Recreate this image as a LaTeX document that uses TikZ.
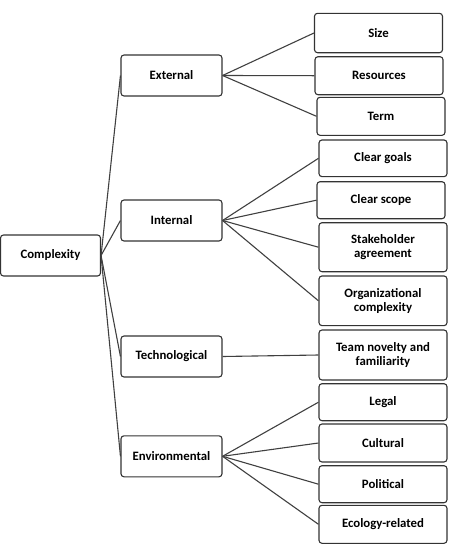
\documentclass[tikz,border=0pt]{standalone}
\usepackage{fontspec}
\setmainfont{Carlito}
\begin{document}
\begin{tikzpicture}[x=1pt,y=-1pt,
  box/.style={draw=black!80,line width=1.1pt,rounded corners=3pt,fill=white,inner sep=0pt,
    font=\fontsize{12.8}{14}\selectfont\bfseries,align=center},
  lbox/.style={box,minimum width=101pt,minimum height=41pt},
  rbox/.style={box,minimum width=128pt},
  conn/.style={draw=black!75,line width=1.1pt}]
\useasboundingbox (0,0) rectangle (474,558);
\node[lbox,minimum width=100pt] (cx) at (50.5,255.5) {Complexity};
\node[lbox] (ext) at (171.5,75.5) {External};
\node[lbox] (int) at (171.5,220.5) {Internal};
\node[lbox] (tec) at (171.5,356.5) {Technological};
\node[lbox] (env) at (171.5,456.3) {Environmental};
\node[rbox,minimum height=39.4pt] (size) at (378.5,33) {Size};
\node[rbox,minimum height=38pt] (res) at (379,75.7) {Resources};
\node[rbox,minimum height=38pt] (term) at (381,116.3) {Term};
\node[rbox,minimum height=36.7pt] (goal) at (383,158.3) {Clear goals};
\node[rbox,minimum height=37pt] (scope) at (381,200.2) {Clear scope};
\node[rbox,minimum height=49pt] (stake) at (383,247.2) {Stakeholder\\agreement};
\node[rbox,minimum height=49.7pt] (org) at (383,300.8) {Organizational\\complexity};
\node[rbox,minimum height=50pt] (team) at (383,355) {Team novelty and\\familiarity};
\node[rbox,minimum height=37pt] (legal) at (383,402.2) {Legal};
\node[rbox,minimum height=38pt] (cult) at (383,443) {Cultural};
\node[rbox,minimum height=37pt] (pol) at (383,484.2) {Political};
\node[rbox,minimum height=38pt] (eco) at (383,524.3) {Ecology-related};
\foreach \c in {ext,int,tec,env} \draw[conn] (cx.east) -- (\c.west);
\foreach \c in {size,res,term} \draw[conn] (ext.east) -- (\c.west);
\foreach \c in {goal,scope,stake,org} \draw[conn] (int.east) -- (\c.west);
\draw[conn] (tec.east) -- (team.west);
\foreach \c in {legal,cult,pol,eco} \draw[conn] (env.east) -- (\c.west);
\end{tikzpicture}
\end{document}
